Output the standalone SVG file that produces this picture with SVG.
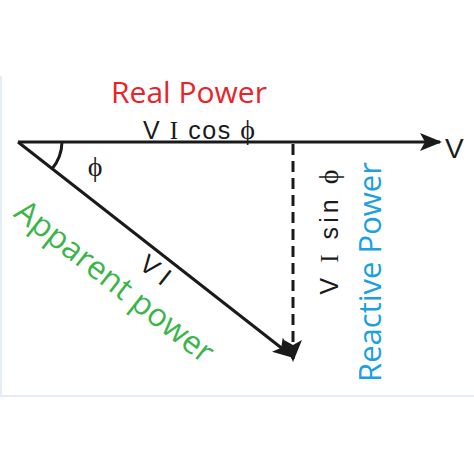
<svg xmlns="http://www.w3.org/2000/svg" width="474" height="474" viewBox="0 0 474 474">
<style>
.ink{stroke:#1a1a1a;stroke-width:3;fill:none}
.lbl{font-family:"Liberation Sans",sans-serif;fill:#1a1a1a}
.ser{font-family:"Liberation Serif",serif}
.cap{font-family:"Open Sans","Noto Sans",sans-serif}
</style>
<defs>
<marker id="ahb" markerWidth="22" markerHeight="18" refX="20" refY="9" orient="auto" markerUnits="userSpaceOnUse">
<path d="M0,0 L22,9 L0,18 L5,9 Z" fill="#1a1a1a"/>
</marker>
</defs>
<rect x="0" y="0" width="474" height="474" fill="#fff"/>
<path d="M1,76 V396 H474" stroke="#e6ecf7" stroke-width="2" fill="none"/>
<g id="connectors">
<line class="ink" x1="18" y1="142" x2="440" y2="142" marker-end="url(#ahb)"/>
<line class="ink" x1="18" y1="142" x2="293" y2="357" marker-end="url(#ahb)"/>
<line class="ink" x1="293" y1="144" x2="293" y2="360" stroke-dasharray="11,6" marker-end="url(#ahb)"/>
<path class="ink" d="M62,142 A44,44 0 0 1 52,169"/>
</g>
<g id="real">
<text class="cap" x="189" y="103" font-size="30" fill="#e8232a" text-anchor="middle">Real Power</text>
<text class="lbl" x="143" y="139" font-size="25" textLength="112" lengthAdjust="spacing">V <tspan class="ser">I</tspan> cos <tspan class="ser" font-size="28">ϕ</tspan></text>
</g>
<g id="v"><text class="lbl" x="445" y="158" font-size="28">V</text></g>
<g id="phi"><text class="lbl ser" x="95" y="176" font-size="28" text-anchor="middle">ϕ</text></g>
<g id="apparent">
<text class="lbl" font-size="26" text-anchor="middle" transform="translate(150,277) rotate(38)">V I</text>
<text class="cap" font-size="32" fill="#3bb54a" text-anchor="middle" transform="translate(108,290) rotate(38)">Apparent power</text>
</g>
<g id="reactive">
<text class="lbl" font-size="25" text-anchor="middle" transform="translate(338,232) rotate(-90)" textLength="125" lengthAdjust="spacing">V <tspan class="ser">I</tspan> sin <tspan class="ser" font-size="28">ϕ</tspan></text>
<text class="cap" font-size="31" fill="#1ba0e2" text-anchor="middle" transform="translate(381,272) rotate(-90)">Reactive Power</text>
</g>
</svg>
